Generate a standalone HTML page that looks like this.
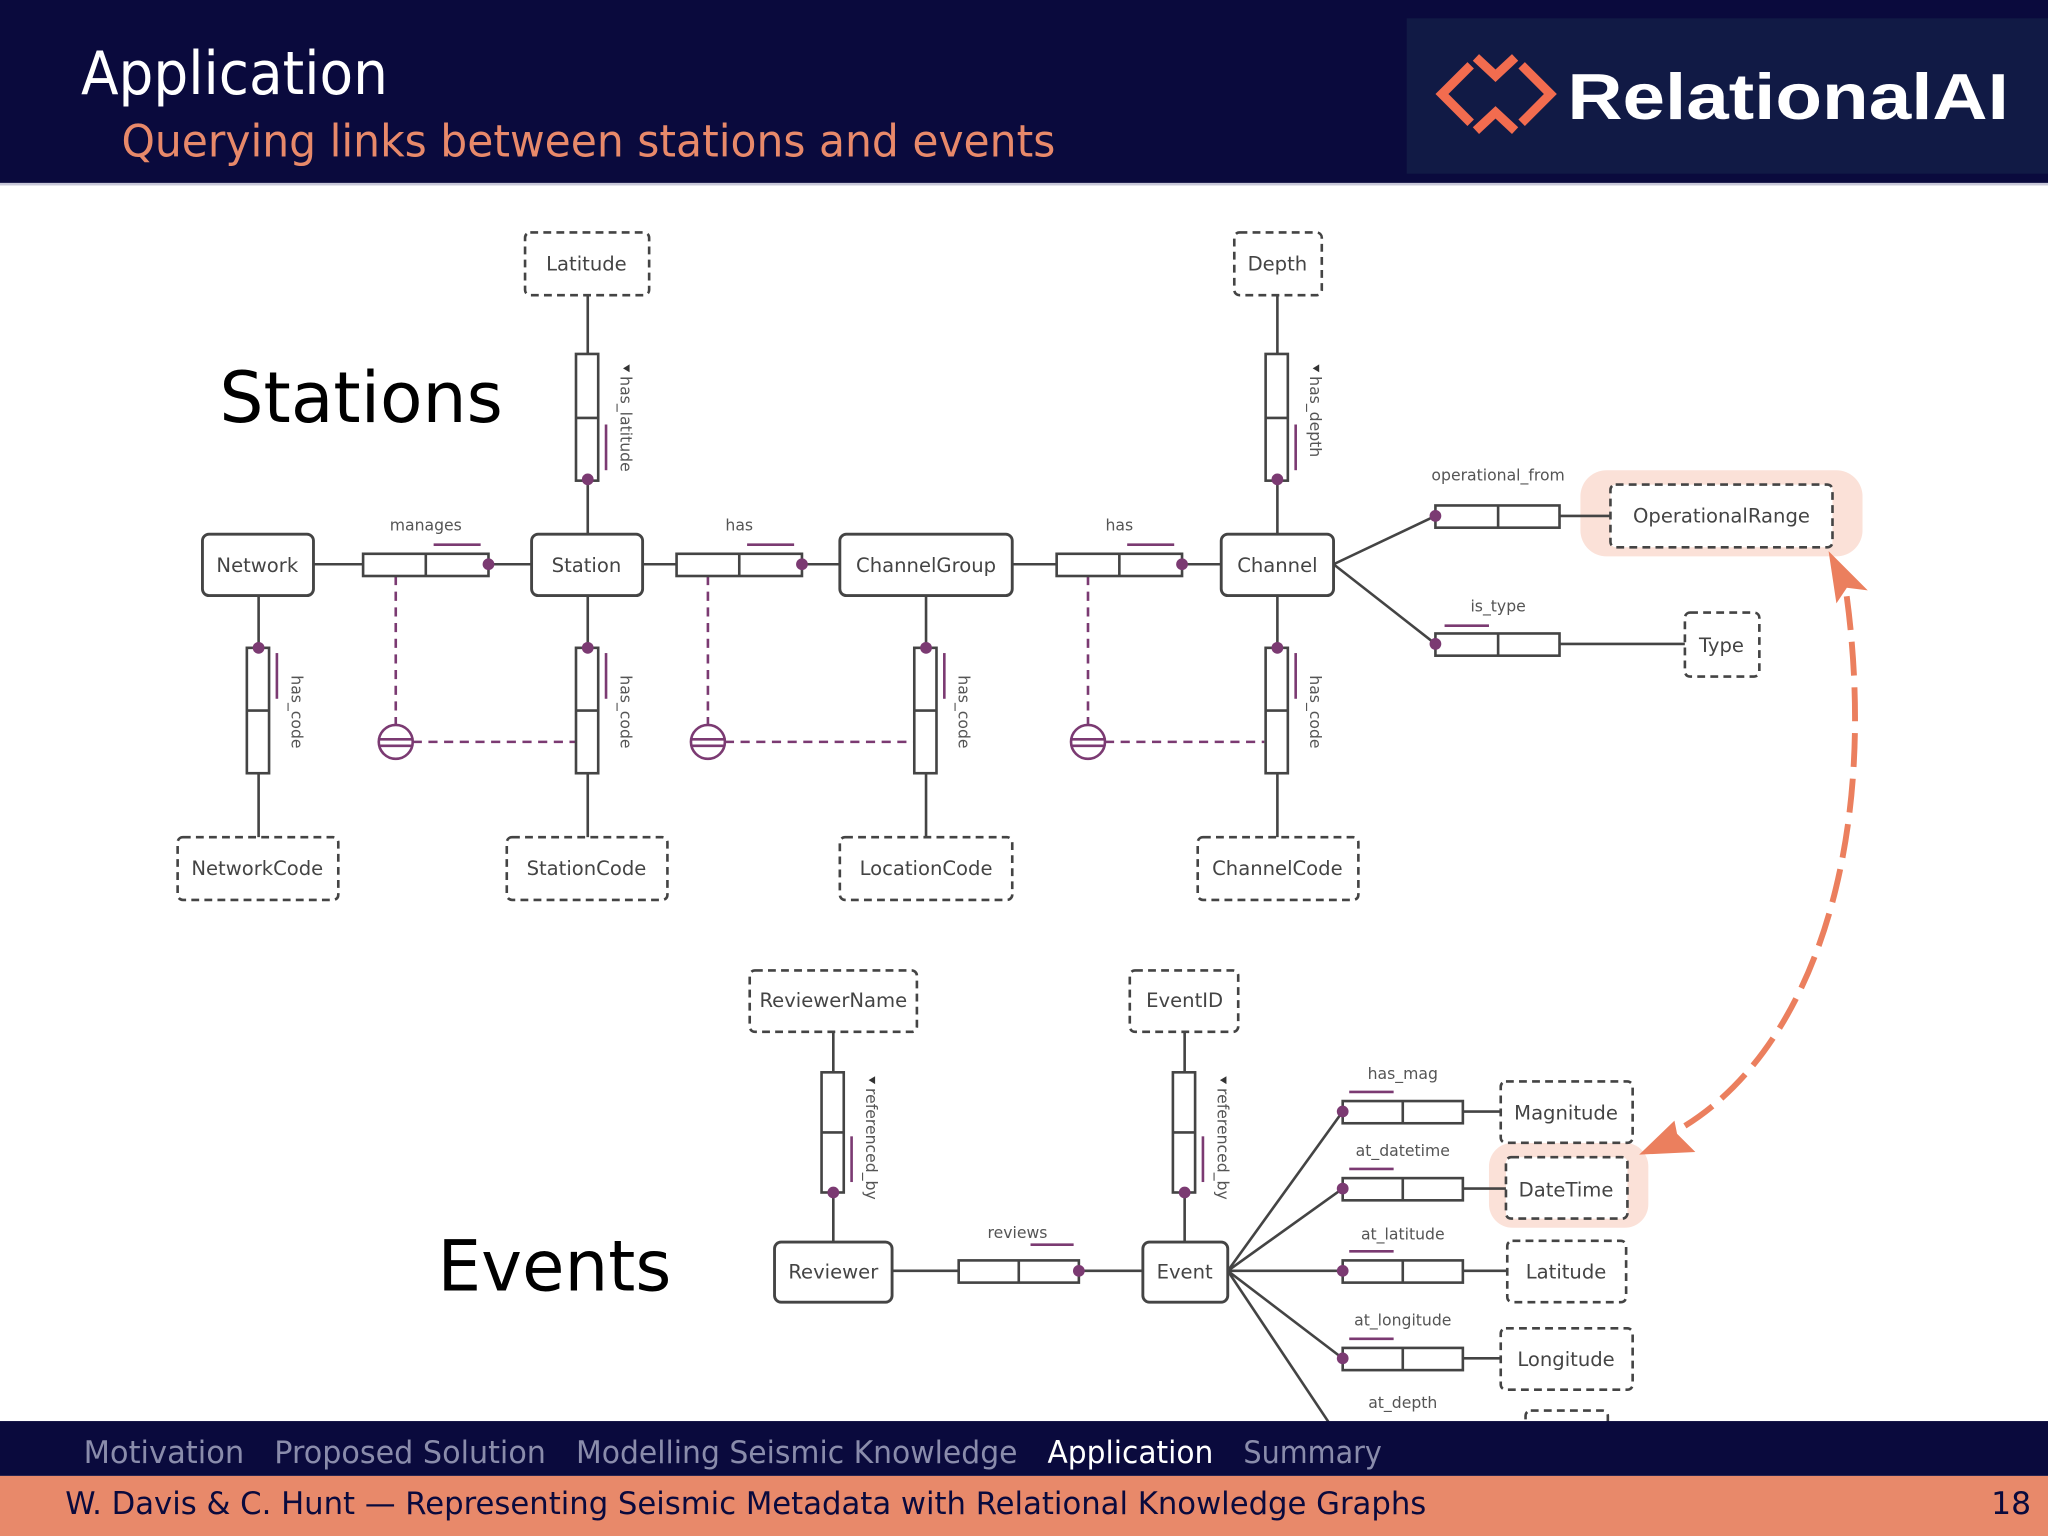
<!DOCTYPE html>
<html><head><meta charset="utf-8"><style>
html,body{margin:0;padding:0;background:#fff;width:2048px;height:1536px;overflow:hidden}
svg{display:block}
.s{font-family:"DejaVu Sans","Liberation Sans",sans-serif}
.ent{fill:#fff;stroke:#444;stroke-width:2.2}
.val{fill:#fff;stroke:#444;stroke-width:2;stroke-dasharray:6 4}
.ln{stroke:#444;stroke-width:2;fill:none}
.rb{fill:#fff;stroke:#444;stroke-width:2}
.pb{stroke:#7b3a72;stroke-width:2}
.nt{font-size:15px;fill:#444;text-anchor:middle}
.lb{font-size:12px;fill:#555;text-anchor:middle}
.vl{font-size:12px;fill:#555}
.pd{stroke:#7b3a72;stroke-width:2;stroke-dasharray:7 5;fill:none}
</style></head><body>
<svg width="2048" height="1536" viewBox="0 0 1568 1176" preserveAspectRatio="none" class="s">
<rect x="0" y="0" width="1568" height="141" fill="#0a0a3d"/>
<rect x="0" y="140" width="1568" height="2" fill="#c8c8d8"/>
<text x="62" y="72" font-size="46" fill="#fff" textLength="235" lengthAdjust="spacingAndGlyphs">Application</text>
<text x="93" y="120" font-size="34" fill="#e8896a" textLength="715" lengthAdjust="spacingAndGlyphs">Querying links between stations and events</text>
<rect x="1077" y="14" width="491" height="119" fill="#111a45"/>
<g stroke="#f26c4f" stroke-width="7" fill="none" stroke-linecap="butt">
<polyline points="1126,50 1104,72 1126,94"/>
<polyline points="1165,50 1187,72 1165,94"/>
<polyline points="1130,44 1145,58 1160,44"/>
<polyline points="1130,100 1145,86 1160,100"/>
</g>
<text x="1200" y="91" font-size="50" font-weight="bold" fill="#fff" font-family="Liberation Sans, sans-serif" textLength="338" lengthAdjust="spacingAndGlyphs">RelationalAI</text>

<text x="168" y="323" font-size="54" fill="#000" textLength="217" lengthAdjust="spacingAndGlyphs">Stations</text>
<text x="335" y="988" font-size="54" fill="#000" textLength="179" lengthAdjust="spacingAndGlyphs">Events</text>

<rect x="1210" y="360" width="216" height="66" rx="20" fill="#fbe1d8"/>
<rect x="1140" y="875" width="122" height="65" rx="18" fill="#fbe1d8"/>

<g class="ln">
<line x1="240" y1="432" x2="278" y2="432"/><line x1="374" y1="432" x2="407" y2="432"/>
<line x1="492" y1="432" x2="518" y2="432"/><line x1="614" y1="432" x2="643" y2="432"/>
<line x1="775" y1="432" x2="809" y2="432"/><line x1="905" y1="432" x2="935" y2="432"/>
<line x1="450" y1="226" x2="450" y2="271"/><line x1="450" y1="368" x2="450" y2="409"/>
<line x1="978" y1="226" x2="978" y2="271"/><line x1="978" y1="368" x2="978" y2="409"/>
<line x1="198" y1="456" x2="198" y2="496"/><line x1="198" y1="592" x2="198" y2="641"/>
<line x1="450" y1="456" x2="450" y2="496"/><line x1="450" y1="592" x2="450" y2="641"/>
<line x1="709" y1="456" x2="709" y2="496"/><line x1="709" y1="592" x2="709" y2="641"/>
<line x1="978" y1="456" x2="978" y2="496"/><line x1="978" y1="592" x2="978" y2="641"/>
<line x1="1021" y1="432" x2="1099" y2="395"/><line x1="1194" y1="395" x2="1233" y2="395"/>
<line x1="1021" y1="432" x2="1099" y2="493"/><line x1="1194" y1="493" x2="1290" y2="493"/>
<line x1="638" y1="790" x2="638" y2="821"/><line x1="638" y1="913" x2="638" y2="951"/>
<line x1="907" y1="790" x2="907" y2="821"/><line x1="907" y1="913" x2="907" y2="951"/>
<line x1="683" y1="973" x2="734" y2="973"/><line x1="826" y1="973" x2="875" y2="973"/>
<line x1="940" y1="973" x2="1028" y2="851"/><line x1="1120" y1="851" x2="1149" y2="851"/>
<line x1="940" y1="973" x2="1028" y2="910"/><line x1="1120" y1="910" x2="1153" y2="910"/>
<line x1="940" y1="973" x2="1028" y2="973"/><line x1="1120" y1="973" x2="1154" y2="973"/>
<line x1="940" y1="973" x2="1028" y2="1040"/><line x1="1120" y1="1040" x2="1149" y2="1040"/>
<line x1="940" y1="973" x2="1018" y2="1090"/>
</g>

<path class="pd" d="M303,441 V555 M316,568 H441 M542,441 V555 M555,568 H700 M833,441 V555 M846,568 H968"/>
<g stroke="#7b3a72" stroke-width="2" fill="#fff">
<circle cx="303" cy="568" r="13"/><circle cx="542" cy="568" r="13"/><circle cx="833" cy="568" r="13"/>
</g>
<g class="pb"><path d="M290,566 H316 M290,571 H316 M529,566 H555 M529,571 H555 M820,566 H846 M820,571 H846"/></g>

<g class="rb">
<rect x="278" y="424" width="96" height="17"/><line x1="326" y1="424" x2="326" y2="441"/>
<rect x="518" y="424" width="96" height="17"/><line x1="566" y1="424" x2="566" y2="441"/>
<rect x="809" y="424" width="96" height="17"/><line x1="857" y1="424" x2="857" y2="441"/>
<rect x="1099" y="387" width="95" height="17"/><line x1="1147" y1="387" x2="1147" y2="404"/>
<rect x="1099" y="485" width="95" height="17"/><line x1="1147" y1="485" x2="1147" y2="502"/>
<rect x="734" y="965" width="92" height="17"/><line x1="780" y1="965" x2="780" y2="982"/>
<rect x="1028" y="843" width="92" height="17"/><line x1="1074" y1="843" x2="1074" y2="860"/>
<rect x="1028" y="902" width="92" height="17"/><line x1="1074" y1="902" x2="1074" y2="919"/>
<rect x="1028" y="965" width="92" height="17"/><line x1="1074" y1="965" x2="1074" y2="982"/>
<rect x="1028" y="1032" width="92" height="17"/><line x1="1074" y1="1032" x2="1074" y2="1049"/>
<rect x="441" y="271" width="17" height="97"/><line x1="441" y1="320" x2="458" y2="320"/>
<rect x="969" y="271" width="17" height="97"/><line x1="969" y1="320" x2="986" y2="320"/>
<rect x="189" y="496" width="17" height="96"/><line x1="189" y1="544" x2="206" y2="544"/>
<rect x="441" y="496" width="17" height="96"/><line x1="441" y1="544" x2="458" y2="544"/>
<rect x="700" y="496" width="17" height="96"/><line x1="700" y1="544" x2="717" y2="544"/>
<rect x="969" y="496" width="17" height="96"/><line x1="969" y1="544" x2="986" y2="544"/>
<rect x="629" y="821" width="17" height="92"/><line x1="629" y1="867" x2="646" y2="867"/>
<rect x="898" y="821" width="17" height="92"/><line x1="898" y1="867" x2="915" y2="867"/>
</g>
<g class="pb">
<line x1="332" y1="417" x2="368" y2="417"/><line x1="572" y1="417" x2="608" y2="417"/><line x1="863" y1="417" x2="899" y2="417"/>
<line x1="1106" y1="479" x2="1140" y2="479"/>
<line x1="789" y1="953" x2="822" y2="953"/>
<line x1="1033" y1="836" x2="1067" y2="836"/><line x1="1033" y1="895" x2="1067" y2="895"/>
<line x1="1033" y1="958" x2="1067" y2="958"/><line x1="1033" y1="1025" x2="1067" y2="1025"/>
<line x1="464" y1="325" x2="464" y2="360"/><line x1="992" y1="325" x2="992" y2="360"/>
<line x1="212" y1="500" x2="212" y2="535"/><line x1="464" y1="500" x2="464" y2="535"/>
<line x1="723" y1="500" x2="723" y2="535"/><line x1="992" y1="500" x2="992" y2="535"/>
<line x1="652" y1="870" x2="652" y2="905"/><line x1="921" y1="870" x2="921" y2="905"/>
</g>
<g fill="#7b3a72">
<circle cx="374" cy="432" r="4.5"/><circle cx="614" cy="432" r="4.5"/><circle cx="905" cy="432" r="4.5"/>
<circle cx="1099" cy="395" r="4.5"/><circle cx="1099" cy="493" r="4.5"/>
<circle cx="450" cy="367" r="4.5"/><circle cx="978" cy="367" r="4.5"/>
<circle cx="198" cy="496" r="4.5"/><circle cx="450" cy="496" r="4.5"/><circle cx="709" cy="496" r="4.5"/><circle cx="978" cy="496" r="4.5"/>
<circle cx="638" cy="913" r="4.5"/><circle cx="907" cy="913" r="4.5"/>
<circle cx="826" cy="973" r="4.5"/>
<circle cx="1028" cy="851" r="4.5"/><circle cx="1028" cy="910" r="4.5"/><circle cx="1028" cy="973" r="4.5"/><circle cx="1028" cy="1040" r="4.5"/>
</g>

<g class="lb">
<text x="326" y="406">manages</text><text x="566" y="406">has</text><text x="857" y="406">has</text>
<text x="1147" y="368">operational_from</text><text x="1147" y="468">is_type</text>
<text x="779" y="948">reviews</text>
<text x="1074" y="826">has_mag</text><text x="1074" y="885">at_datetime</text>
<text x="1074" y="949">at_latitude</text><text x="1074" y="1015">at_longitude</text>
<text x="1074" y="1078">at_depth</text>
</g>
<g class="vl">
<text transform="translate(475,288) rotate(90)">has_latitude</text>
<text transform="translate(1003,288) rotate(90)">has_depth</text>
<text transform="translate(223,517) rotate(90)">has_code</text>
<text transform="translate(475,517) rotate(90)">has_code</text>
<text transform="translate(734,517) rotate(90)">has_code</text>
<text transform="translate(1003,517) rotate(90)">has_code</text>
<text transform="translate(663,833) rotate(90)">referenced_by</text>
<text transform="translate(932,833) rotate(90)">referenced_by</text>
</g>
<g fill="#333">
<polygon points="480,279 477,284 483,284" transform="rotate(-90 480 282)"/>
<polygon points="1008,279 1005,284 1011,284" transform="rotate(-90 1008 282)"/>
<polygon points="668,824 665,829 671,829" transform="rotate(-90 668 827)"/>
<polygon points="937,824 934,829 940,829" transform="rotate(-90 937 827)"/>
</g>

<rect class="ent" x="155" y="409" width="85" height="47" rx="5"/><text class="nt" x="197" y="438">Network</text>
<rect class="ent" x="407" y="409" width="85" height="47" rx="5"/><text class="nt" x="449" y="438">Station</text>
<rect class="ent" x="643" y="409" width="132" height="47" rx="5"/><text class="nt" x="709" y="438">ChannelGroup</text>
<rect class="ent" x="935" y="409" width="86" height="47" rx="5"/><text class="nt" x="978" y="438">Channel</text>
<rect class="ent" x="593" y="951" width="90" height="46" rx="5"/><text class="nt" x="638" y="979">Reviewer</text>
<rect class="ent" x="875" y="951" width="65" height="46" rx="5"/><text class="nt" x="907" y="979">Event</text>

<rect class="val" x="402" y="178" width="95" height="48" rx="4"/><text class="nt" x="449" y="207">Latitude</text>
<rect class="val" x="945" y="178" width="67" height="48" rx="4"/><text class="nt" x="978" y="207">Depth</text>
<rect class="val" x="136" y="641" width="123" height="48" rx="4"/><text class="nt" x="197" y="670">NetworkCode</text>
<rect class="val" x="388" y="641" width="123" height="48" rx="4"/><text class="nt" x="449" y="670">StationCode</text>
<rect class="val" x="643" y="641" width="132" height="48" rx="4"/><text class="nt" x="709" y="670">LocationCode</text>
<rect class="val" x="917" y="641" width="123" height="48" rx="4"/><text class="nt" x="978" y="670">ChannelCode</text>
<rect class="val" x="1233" y="371" width="170" height="48" rx="4" fill="#fbe1d8"/><text class="nt" x="1318" y="400">OperationalRange</text>
<rect class="val" x="1290" y="469" width="57" height="49" rx="4"/><text class="nt" x="1318" y="499">Type</text>
<rect class="val" x="574" y="743" width="128" height="47" rx="4"/><text class="nt" x="638" y="771">ReviewerName</text>
<rect class="val" x="865" y="743" width="83" height="47" rx="4"/><text class="nt" x="907" y="771">EventID</text>
<rect class="val" x="1149" y="828" width="101" height="47" rx="4"/><text class="nt" x="1199" y="857">Magnitude</text>
<rect class="val" x="1153" y="886" width="93" height="47" rx="4" fill="#fbe1d8"/><text class="nt" x="1199" y="916">DateTime</text>
<rect class="val" x="1154" y="950" width="91" height="47" rx="4"/><text class="nt" x="1199" y="979">Latitude</text>
<rect class="val" x="1149" y="1017" width="101" height="47" rx="4"/><text class="nt" x="1199" y="1046">Longitude</text>
<rect class="val" x="1168" y="1080" width="63" height="40" rx="4"/>

<path d="M1290,862 C1390,800 1440,640 1413,450" stroke="#eb7f5e" stroke-width="4.5" fill="none" stroke-dasharray="26 9"/>
<polygon points="1400,422 1430,452 1414,450 1406,462" fill="#eb7f5e"/>
<polygon points="1255,884 1282,858 1284,868 1298,882" fill="#eb7f5e"/>

<rect x="0" y="1088" width="1568" height="42" fill="#0a0a3d"/>
<rect x="0" y="1130" width="1568" height="46" fill="#e8896a"/>
<g font-size="24" fill="#8a8cab">
<text x="64" y="1120" textLength="123" lengthAdjust="spacingAndGlyphs">Motivation</text>
<text x="210" y="1120" textLength="208" lengthAdjust="spacingAndGlyphs">Proposed Solution</text>
<text x="441" y="1120" textLength="338" lengthAdjust="spacingAndGlyphs">Modelling Seismic Knowledge</text>
<text x="802" y="1120" fill="#fff" textLength="127" lengthAdjust="spacingAndGlyphs">Application</text>
<text x="952" y="1120" textLength="106" lengthAdjust="spacingAndGlyphs">Summary</text>
</g>
<text x="50" y="1159" font-size="24" fill="#0a0a3d" textLength="1042" lengthAdjust="spacingAndGlyphs">W. Davis &amp; C. Hunt — Representing Seismic Metadata with Relational Knowledge Graphs</text>
<text x="1555" y="1159" font-size="24" fill="#0a0a3d" text-anchor="end">18</text>
</svg>
</body></html>
